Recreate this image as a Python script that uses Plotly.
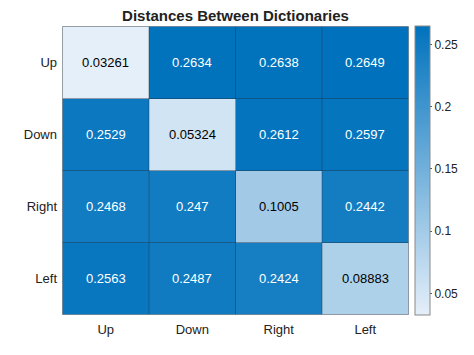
import plotly.graph_objects as go

rows = ["Up", "Down", "Right", "Left"]
cols = ["Up", "Down", "Right", "Left"]
values = [
    [0.03261, 0.2634, 0.2638, 0.2649],
    [0.2529, 0.05324, 0.2612, 0.2597],
    [0.2468, 0.247, 0.1005, 0.2442],
    [0.2563, 0.2487, 0.2424, 0.08883],
]
labels = [
    ["0.03261", "0.2634", "0.2638", "0.2649"],
    ["0.2529", "0.05324", "0.2612", "0.2597"],
    ["0.2468", "0.247", "0.1005", "0.2442"],
    ["0.2563", "0.2487", "0.2424", "0.08883"],
]
cbar_ticks = [0.05, 0.1, 0.15, 0.2, 0.25]
cbar_ticktext = ["0.05", "0.1", "0.15", "0.2", "0.25"]
title = "Distances Between Dictionaries"

FONT = "Liberation Sans, Arial, Helvetica, sans-serif"
zmin = min(min(r) for r in values)
zmax = max(max(r) for r in values)

fig = go.Figure(go.Heatmap(
    z=values, x=cols, y=rows,
    zmin=zmin, zmax=zmax,
    colorscale=[[0, "#e5eff9"], [1, "#0072bd"]],
    hoverinfo="skip",
    colorbar=dict(
        thickness=15, len=1, lenmode="fraction", y=0.5, yanchor="middle",
        x=1.017, xanchor="left", xpad=0, ypad=0,
        outlinecolor="#8a8a8a", outlinewidth=1,
        tickvals=cbar_ticks, ticktext=cbar_ticktext,
        ticks="outside", ticklen=2, tickcolor="#555555",
        tickfont=dict(family=FONT, size=12, color="#222222"),
    ),
))

anns = []
mid = zmin + 0.45 * (zmax - zmin)
for i, r in enumerate(rows):
    for j, c in enumerate(cols):
        anns.append(dict(
            x=c, y=r, text=labels[i][j], showarrow=False,
            font=dict(family=FONT, size=13,
                      color="#000000" if values[i][j] < mid else "#ffffff"),
        ))

shapes = []
n = len(cols)
m = len(rows)
for k in range(1, n):
    shapes.append(dict(type="line", xref="x", yref="y", x0=k - 0.5, x1=k - 0.5,
                       y0=-0.5, y1=m - 0.5, line=dict(color="rgba(30,50,70,0.45)", width=1)))
for k in range(1, m):
    shapes.append(dict(type="line", xref="x", yref="y", x0=-0.5, x1=n - 0.5,
                       y0=k - 0.5, y1=k - 0.5, line=dict(color="rgba(30,50,70,0.45)", width=1)))
shapes.append(dict(type="rect", xref="x", yref="y", x0=-0.5, x1=n - 0.5,
                   y0=-0.5, y1=m - 0.5, line=dict(color="rgba(90,100,110,0.6)", width=1)))

fig.update_layout(
    width=474, height=355,
    margin=dict(l=62, r=65, t=26, b=40),
    paper_bgcolor="white", plot_bgcolor="white",
    title=dict(text="<b>" + title + "</b>", x=0.5, xref="paper", xanchor="center",
               y=1 - 16 / 355, yanchor="middle",
               font=dict(family=FONT, size=15, color="#222222")),
    xaxis=dict(showgrid=False, zeroline=False, ticks="", showline=False,
               ticklabelstandoff=5,
               tickfont=dict(family=FONT, size=13, color="#222222")),
    yaxis=dict(autorange="reversed", showgrid=False, zeroline=False, ticks="",
               showline=False, ticklabelstandoff=4,
               tickfont=dict(family=FONT, size=13, color="#222222")),
    annotations=anns, shapes=shapes,
)

fig.write_html("out.html")
